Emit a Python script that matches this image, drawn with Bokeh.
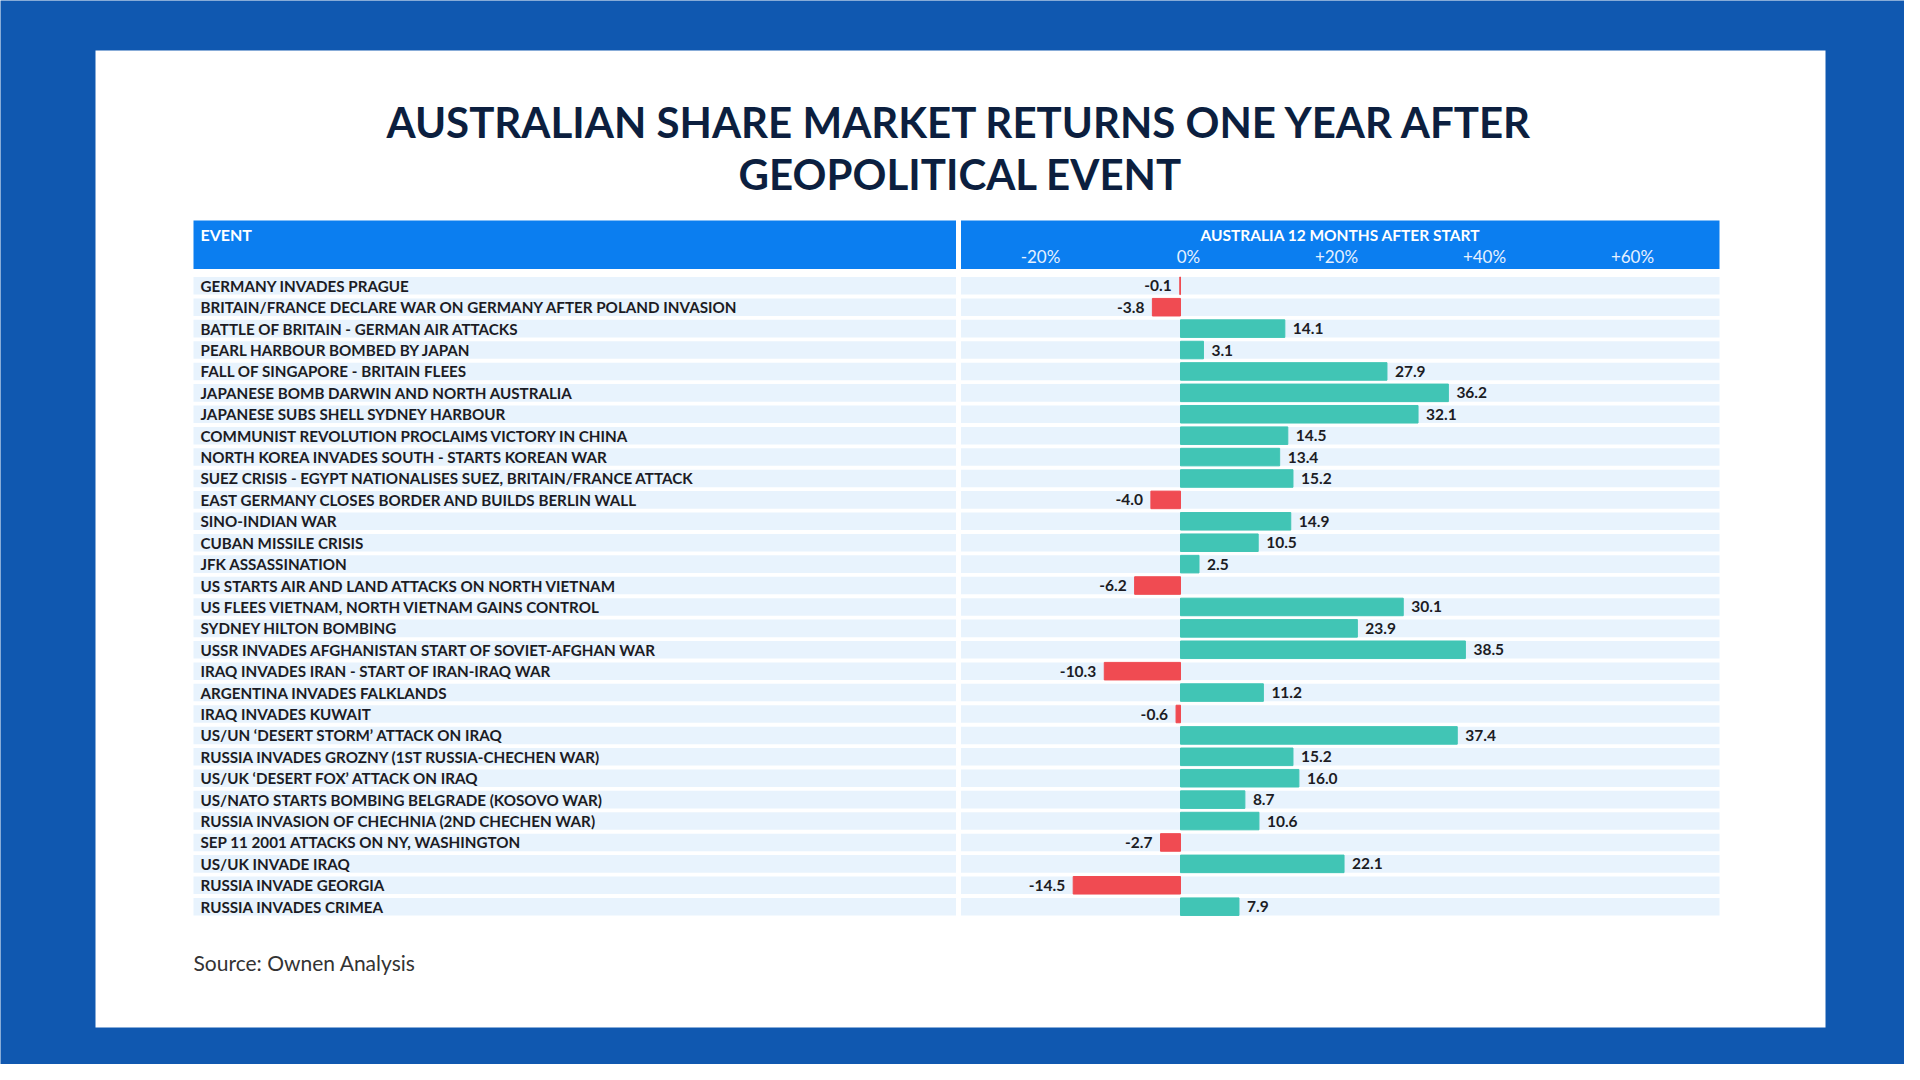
import numpy as np

from bokeh.core.properties import value
from bokeh.embed import file_html
from bokeh.models import ColumnDataSource, Range1d
from bokeh.plotting import figure
from bokeh.resources import INLINE

# data
events = [
    "GERMANY INVADES PRAGUE",
    "BRITAIN/FRANCE DECLARE WAR ON GERMANY AFTER POLAND INVASION",
    "BATTLE OF BRITAIN - GERMAN AIR ATTACKS",
    "PEARL HARBOUR BOMBED BY JAPAN",
    "FALL OF SINGAPORE - BRITAIN FLEES",
    "JAPANESE BOMB DARWIN AND NORTH AUSTRALIA",
    "JAPANESE SUBS SHELL SYDNEY HARBOUR",
    "COMMUNIST REVOLUTION PROCLAIMS VICTORY IN CHINA",
    "NORTH KOREA INVADES SOUTH - STARTS KOREAN WAR",
    "SUEZ CRISIS - EGYPT NATIONALISES SUEZ, BRITAIN/FRANCE ATTACK",
    "EAST GERMANY CLOSES BORDER AND BUILDS BERLIN WALL",
    "SINO-INDIAN WAR",
    "CUBAN MISSILE CRISIS",
    "JFK ASSASSINATION",
    "US STARTS AIR AND LAND ATTACKS ON NORTH VIETNAM",
    "US FLEES VIETNAM, NORTH VIETNAM GAINS CONTROL",
    "SYDNEY HILTON BOMBING",
    "USSR INVADES AFGHANISTAN START OF SOVIET-AFGHAN WAR",
    "IRAQ INVADES IRAN - START OF IRAN-IRAQ WAR",
    "ARGENTINA INVADES FALKLANDS",
    "IRAQ INVADES KUWAIT",
    "US/UN \u2018DESERT STORM\u2019 ATTACK ON IRAQ",
    "RUSSIA INVADES GROZNY (1ST RUSSIA-CHECHEN WAR)",
    "US/UK \u2018DESERT FOX\u2019 ATTACK ON IRAQ",
    "US/NATO STARTS BOMBING BELGRADE (KOSOVO WAR)",
    "RUSSIA INVASION OF CHECHNIA (2ND CHECHEN WAR)",
    "SEP 11 2001 ATTACKS ON NY, WASHINGTON",
    "US/UK INVADE IRAQ",
    "RUSSIA INVADE GEORGIA",
    "RUSSIA INVADES CRIMEA",
]
returns = [
    -0.1, -3.8, 14.1, 3.1, 27.9, 36.2, 32.1, 14.5, 13.4, 15.2,
    -4.0, 14.9, 10.5, 2.5, -6.2, 30.1, 23.9, 38.5, -10.3, 11.2,
    -0.6, 37.4, 15.2, 16.0, 8.7, 10.6, -2.7, 22.1, -14.5, 7.9,
]
tick_values = [-20, 0, 20, 40, 60]
tick_labels = ["-20%", "0%", "+20%", "+40%", "+60%"]

title_lines = ["AUSTRALIAN SHARE MARKET RETURNS ONE YEAR AFTER", "GEOPOLITICAL EVENT"]
event_header = "EVENT"
return_header = "AUSTRALIA 12 MONTHS AFTER START"
source_note = "Source: Ownen Analysis"

# colours
BG = "#1058b0"
HEADER = "#0b7ef0"
BAND = "#e8f3fd"
POS = "#41c5b5"
NEG = "#f04b52"
NAVY = "#0c1f3f"
INK = "#1c1c24"
FONT = value("Lato")

# the frame fills the whole canvas; pixel positions on the canvas are
# turned into data units with these two helpers
W, H = 1904, 1064
ZERO_X = 1180
PX_PER_PCT = 7.4
ROW0_Y = 285.3
ROW_STEP = 21.41


def dx(px):
    return (px - ZERO_X) / PX_PER_PCT


def dy(py):
    return (py - ROW0_Y) / ROW_STEP


p = figure(width=W, height=H, output_backend="svg", toolbar_location=None, tools="",
           x_range=Range1d(dx(0), dx(W)),
           y_range=Range1d(dy(H), dy(0)),
           x_axis_location=None, y_axis_location=None, min_border=0)
p.grid.visible = False
p.outline_line_color = None
p.background_fill_color = BG
p.border_fill_color = BG

# white card
p.quad(left=dx(95), right=dx(1825), top=dy(50), bottom=dy(1027),
       fill_color="white", line_color=None)

# title
p.text(x=[dx(960)] * 2, y=[dy(121), dy(173)], text=title_lines,
       text_align="center", text_baseline="middle", text_color=NAVY,
       text_font=FONT, text_font_style="bold", text_font_size="42px")

# table header
p.quad(left=[dx(193), dx(960.5)], right=[dx(955.5), dx(1719)],
       top=dy(220), bottom=dy(268.5), fill_color=HEADER, line_color=None)
p.text(x=[dx(200)], y=[dy(234)], text=[event_header], text_align="left",
       text_baseline="middle", text_color="white", text_font=FONT,
       text_font_style="bold", text_font_size="16px")
p.text(x=[dx(1340)], y=[dy(234)], text=[return_header], text_align="center",
       text_baseline="middle", text_color="white", text_font=FONT,
       text_font_style="bold", text_font_size="15.5px")
p.text(x=tick_values, y=[dy(256)] * len(tick_values), text=tick_labels,
       x_offset=8, text_align="center", text_baseline="middle",
       text_color="#e6f1ff", text_font=FONT, text_font_size="17px")

rows = np.arange(len(events))
src = ColumnDataSource(dict(
    y=rows,
    event=events,
    ret=returns,
    color=[POS if r >= 0 else NEG for r in returns],
))

# row bands
p.hbar(y="y", left=dx(193), right=dx(955.5), height=0.82, source=src,
       fill_color=BAND, line_color=None)
p.hbar(y="y", left=dx(960.5), right=dx(1719), height=0.82, source=src,
       fill_color=BAND, line_color=None)

# bars
p.hbar(y="y", left=0, right="ret", height=0.82, source=src,
       fill_color="color", line_color="color", line_width=1)

p.text(x=dx(200), y="y", text="event", source=src, text_align="left",
       text_baseline="middle", text_color=INK, text_font=FONT,
       text_font_style="bold", text_font_size="15.2px")

pos_i = [i for i, r in enumerate(returns) if r >= 0]
neg_i = [i for i, r in enumerate(returns) if r < 0]
p.text(x=[returns[i] for i in pos_i], y=pos_i,
       text=[f"{returns[i]:.1f}" for i in pos_i], x_offset=8,
       text_align="left", text_baseline="middle", text_color=INK,
       text_font=FONT, text_font_style="bold", text_font_size="15.5px")
p.text(x=[returns[i] for i in neg_i], y=neg_i,
       text=[f"{returns[i]:.1f}" for i in neg_i], x_offset=-8,
       text_align="right", text_baseline="middle", text_color=INK,
       text_font=FONT, text_font_style="bold", text_font_size="15.5px")

# source note
p.text(x=[dx(193)], y=[dy(962)], text=[source_note], text_align="left",
       text_baseline="middle", text_color="#333333", text_font=FONT,
       text_font_size="21px")

open("out.html", "w").write(file_html(p, INLINE))
